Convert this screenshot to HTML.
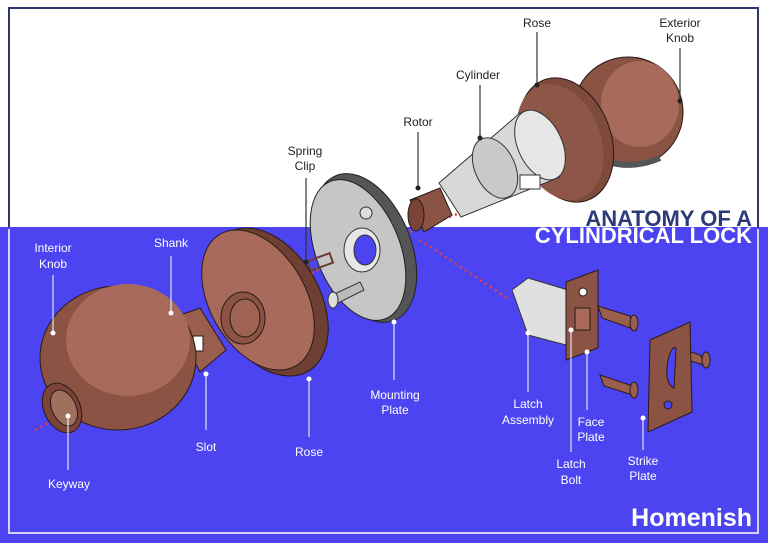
<!DOCTYPE html>
<html><head><meta charset="utf-8"><style>
body{margin:0;width:768px;height:543px;overflow:hidden;background:#fff}
svg{display:block}
text{font-family:"Liberation Sans",sans-serif;font-size:12px;text-anchor:middle}
.w{fill:#fff}.k{fill:#222}
</style></head><body>
<svg width="768" height="543" viewBox="0 0 768 543">
<rect x="0" y="0" width="768" height="543" fill="#fff"/>
<rect x="0" y="227" width="768" height="316" fill="#4b44f0"/>
<path d="M9 227V8H758V227" fill="none" stroke="#2c3770" stroke-width="2"/>
<path d="M9 229V533H758V229" fill="none" stroke="#d8d0f4" stroke-width="2"/>

<!-- red dotted axes -->
<g stroke="#e8403a" stroke-width="2.5" stroke-dasharray="2 4" fill="none">
<path d="M35 430L250 316"/><path d="M300 278L375 245"/><path d="M410 232L520 190"/><path d="M420 240L510 300"/>
</g>

<!-- exterior knob -->
<circle cx="628" cy="112" r="55" fill="#8a5344" stroke="#2a1a15"/>
<ellipse cx="640" cy="104" rx="39" ry="43" fill="#a86b5b"/>
<path d="M585 150Q620 175 660 158" fill="none" stroke="#555" stroke-width="6"/>
<!-- exterior rose -->
<ellipse cx="566" cy="140" rx="45" ry="64" transform="rotate(-20 566 140)" fill="#7d4a3c" stroke="#2a1a15"/>
<ellipse cx="560" cy="142" rx="41" ry="60" transform="rotate(-20 560 142)" fill="#8e5646"/>
<!-- cylinder -->
<path d="M439 183L520 113L560 177L461 217Z" fill="#d8d8d8" stroke="#333"/>
<ellipse cx="540" cy="145" rx="22" ry="37" transform="rotate(-25 540 145)" fill="#e6e6e6" stroke="#333"/>
<ellipse cx="495" cy="168" rx="20" ry="32" transform="rotate(-25 495 168)" fill="#c9c9c9" stroke="#333"/>
<rect x="520" y="175" width="20" height="14" fill="#fff" stroke="#333"/>
<!-- rotor -->
<path d="M410 200L440 188L452 215L424 232Z" fill="#8a5344" stroke="#2a1a15"/>
<ellipse cx="416" cy="215" rx="8" ry="16" fill="#7a4538" stroke="#2a1a15"/>

<!-- mounting plate -->
<ellipse cx="365" cy="248" rx="46" ry="78" transform="rotate(-22 365 248)" fill="#555" stroke="#222"/>
<ellipse cx="358" cy="250" rx="42" ry="74" transform="rotate(-22 358 250)" fill="#c6c6c6" stroke="#222"/>
<ellipse cx="362" cy="250" rx="18" ry="22" fill="#e6e6e6" stroke="#333"/>
<ellipse cx="365" cy="250" rx="11" ry="15" fill="#4b44f0" stroke="#333"/>
<path d="M330 296L360 282L364 290L334 305Z" fill="#bbb" stroke="#333"/>
<ellipse cx="333" cy="300" rx="5" ry="8" fill="#ddd" stroke="#333"/>
<circle cx="366" cy="213" r="6" fill="#ddd" stroke="#333"/>
<rect x="308" y="257" width="24" height="10" transform="rotate(-20 320 262)" fill="none" stroke="#6b3d30" stroke-width="2"/>

<!-- inner rose -->
<ellipse cx="268" cy="302" rx="52" ry="80" transform="rotate(-30 268 302)" fill="#6e3f33" stroke="#2a1a15"/>
<ellipse cx="258" cy="300" rx="48" ry="76" transform="rotate(-30 258 300)" fill="#a86b5b" stroke="#2a1a15"/>
<ellipse cx="243" cy="318" rx="22" ry="26" fill="#8a5344" stroke="#2a1a15"/>
<ellipse cx="245" cy="318" rx="15" ry="19" fill="#9e6353" stroke="#2a1a15"/>

<!-- shank -->
<path d="M172 318L200 308L226 350L200 372Z" fill="#9a5e4e" stroke="#2a1a15"/>
<rect x="193" y="336" width="10" height="15" fill="#fff" stroke="#2a1a15"/>
<!-- interior knob -->
<ellipse cx="118" cy="358" rx="78" ry="72" fill="#8a5344" stroke="#2a1a15"/>
<ellipse cx="128" cy="340" rx="62" ry="56" fill="#a86b5b"/>
<ellipse cx="62" cy="408" rx="18" ry="26" transform="rotate(-25 62 408)" fill="#7a4538" stroke="#2a1a15"/>
<ellipse cx="64" cy="408" rx="12" ry="19" transform="rotate(-25 64 408)" fill="#a0705f" stroke="#2a1a15"/>

<!-- latch -->
<path d="M512 290L528 278L568 290L566 345L528 335Z" fill="#e0e0e0" stroke="#333"/>
<path d="M566 282L598 270L598 348L566 360Z" fill="#8a5344" stroke="#2a1a15"/>
<rect x="575" y="308" width="15" height="22" fill="#a86b5b" stroke="#2a1a15"/>
<circle cx="583" cy="292" r="4" fill="#fff" stroke="#2a1a15"/>
<!-- screws -->
<g fill="#9a5e4e" stroke="#2a1a15">
<path d="M598 306L630 316L636 330L602 318Z"/><ellipse cx="634" cy="323" rx="4" ry="8"/>
<path d="M600 375L630 385L636 396L604 386Z"/><ellipse cx="634" cy="390" rx="4" ry="8"/>
<path d="M670 345L700 355L707 366L674 356Z"/><ellipse cx="706" cy="360" rx="4" ry="8"/>
</g>
<!-- strike plate -->
<path d="M650 340L690 322L692 412L648 432Z" fill="#8a5344" stroke="#2a1a15"/>
<path d="M668 360Q672 345 676 348L674 388Q664 384 668 360Z" fill="#4b44f0" stroke="#2a1a15"/>
<circle cx="668" cy="405" r="4" fill="#4b44f0" stroke="#2a1a15"/>

<!-- leader lines -->
<g stroke="#333" stroke-width="1.2"><path d="M537 32V85M680 48V101M480 85V138M418 132V188M306 178V262"/></g>
<g fill="#222"><circle cx="537" cy="85" r="2.5"/><circle cx="680" cy="101" r="2.5"/><circle cx="480" cy="138" r="2.5"/><circle cx="418" cy="188" r="2.5"/><circle cx="306" cy="262" r="2.5"/></g>
<g stroke="#e0e0ff" stroke-width="1.2"><path d="M53 275V333M171 256V313M206 374V430M309 379V437M68 416V470M394 322V380M528 333V392M587 352V410M571 330V452M643 418V450"/></g>
<g fill="#fff"><circle cx="53" cy="333" r="2.5"/><circle cx="171" cy="313" r="2.5"/><circle cx="206" cy="374" r="2.5"/><circle cx="309" cy="379" r="2.5"/><circle cx="68" cy="416" r="2.5"/><circle cx="394" cy="322" r="2.5"/><circle cx="528" cy="333" r="2.5"/><circle cx="587" cy="352" r="2.5"/><circle cx="571" cy="330" r="2.5"/><circle cx="643" cy="418" r="2.5"/></g>

<!-- labels -->
<g class="k"><text x="537" y="27">Rose</text><text x="680" y="27">Exterior</text><text x="680" y="42">Knob</text>
<text x="478" y="79">Cylinder</text><text x="418" y="126">Rotor</text><text x="305" y="155">Spring</text><text x="305" y="170">Clip</text></g>
<g class="w"><text x="53" y="252">Interior</text><text x="53" y="268">Knob</text><text x="171" y="247">Shank</text>
<text x="206" y="451">Slot</text><text x="309" y="456">Rose</text><text x="69" y="488">Keyway</text>
<text x="395" y="399">Mounting</text><text x="395" y="414">Plate</text>
<text x="528" y="408">Latch</text><text x="528" y="424">Assembly</text>
<text x="591" y="426">Face</text><text x="591" y="441">Plate</text>
<text x="571" y="468">Latch</text><text x="571" y="484">Bolt</text>
<text x="643" y="465">Strike</text><text x="643" y="480">Plate</text></g>

<text x="752" y="226" style="text-anchor:end;font-size:22px;font-weight:bold;fill:#2c3a78">ANATOMY OF A</text>
<text x="752" y="243" style="text-anchor:end;font-size:22px;font-weight:bold;fill:#fff">CYLINDRICAL LOCK</text>
<text x="752" y="526" style="text-anchor:end;font-size:25px;font-weight:bold;fill:#fff">Homenish</text>
</svg>
</body></html>
